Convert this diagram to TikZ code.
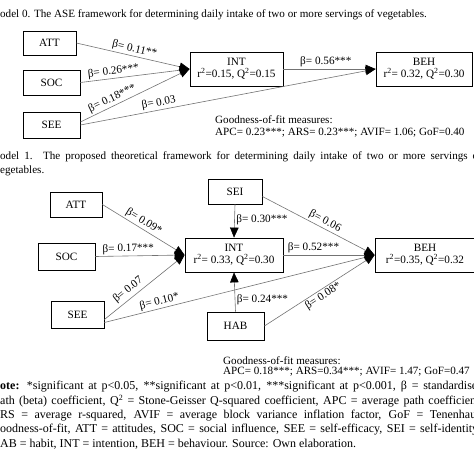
\documentclass[tikz,border=0pt]{standalone}
\usepackage{fontspec}
\setmainfont{Liberation Serif}
\usetikzlibrary{arrows.meta}

\newcommand{\sq}{\textsuperscript{2}}

\begin{document}
\begin{tikzpicture}[x = 1pt, y = -1pt,
  box/.style = {draw, line width = 0.8pt, inner sep = 0, align = center,
    font = \fontsize{11.2}{12}\selectfont},
  link/.style = {draw = black!55, line width = 0.6pt},
  arr/.style = {link, -{Triangle[length = 10pt, width = 8.5pt, black]}},
  coef/.style = {font = \fontsize{11.2}{12}\selectfont, inner sep = 1.5pt},
  txt/.style = {anchor = west, inner sep = 0, font = \fontsize{11.1}{12}\selectfont},
  note/.style = {txt, font = \fontsize{12}{14}\selectfont}
  ]
  \useasboundingbox (0, 0) rectangle (474, 474);
  \clip (0, 0) rectangle (474, 474);

  % Model 0
  \node[txt] (title0) at (0, 15) {odel 0. The ASE framework for determining daily intake of two or more servings of vegetables.};

  \node[box, minimum width = 53, minimum height = 24] (att0) at (49.5, 43) {ATT};
  \node[box, minimum width = 57, minimum height = 25] (soc0) at (51.5, 82.5) {SOC};
  \node[box, minimum width = 57, minimum height = 26] (see0) at (51.5, 125) {SEE};
  \node[box, minimum width = 93, minimum height = 34] (int0) at (236.5, 69)
  {INT\\r\sq=0.15, Q\sq=0.15};
  \node[box, minimum width = 96, minimum height = 34] (beh0) at (424, 69)
  {BEH\\r\sq= 0.32, Q\sq=0.30};

  \draw[arr] (att0.east) -- node[coef, sloped, above, pos = 0.5] (c0att) {β= 0.11**} (int0.west);
  \draw[arr] (soc0.east) -- node[coef, sloped, above, pos = 0.31] (c0soc) {β= 0.26***} (int0.west);
  \draw[arr] ([yshift = 3pt]see0.east) -- node[coef, sloped, above, pos = 0.32] (c0see) {β= 0.18***} (int0.west);
  \draw[arr] (see0.east) -- node[coef, sloped, above, pos = 0.27] (c0seeb) {β= 0.03} (beh0.west);
  \draw[arr] (int0.east) -- node[coef, above, pos = 0.46] (c0int) {β= 0.56***} (beh0.west);

  \node[txt] (fit0a) at (215, 120) {Goodness-of-fit measures:};
  \node[txt] (fit0b) at (215, 133) {APC= 0.23***; ARS= 0.23***; AVIF= 1.06; GoF=0.40};

  % Model 1
  \node[txt] (title1a) at (0, 157) {\makebox[478pt][s]{odel 1. The proposed theoretical framework for determining daily intake of two or more servings o}};
  \node[txt] (title1b) at (0, 171) {egetables.};

  \node[box, minimum width = 52, minimum height = 25] (att1) at (76, 204.5) {ATT};
  \node[box, minimum width = 57, minimum height = 27] (soc1) at (66.5, 256.5) {SOC};
  \node[box, minimum width = 53, minimum height = 27] (see1) at (77.5, 314.5) {SEE};
  \node[box, minimum width = 54, minimum height = 25] (sei1) at (235, 191.5) {SEI};
  \node[box, minimum width = 57, minimum height = 28] (hab1) at (235.5, 326) {HAB};
  \node[box, minimum width = 98, minimum height = 34] (int1) at (234, 255)
  {INT\\r\sq= 0.33, Q\sq=0.30};
  \node[box, minimum width = 100, minimum height = 34] (beh1) at (425, 255)
  {BEH\\r\sq=0.35, Q\sq=0.32};

  \draw[arr] (att1.east) -- node[coef, sloped, above, pos = 0.46] (c1att) {β= 0.09*} (int1.west);
  \draw[arr] (soc1.east) -- node[coef, sloped, above, pos = 0.37] (c1soc) {β= 0.17***} (int1.west);
  \draw[arr] ([yshift = -5pt]see1.east) -- node[coef, sloped, above, pos = 0.36, inner sep = 3pt] (c1see) {β= 0.07} (int1.west);
  \draw[arr] ([yshift = -8pt]see1.east) -- node[coef, sloped, above, pos = 0.21] (c1seeb) {β= 0.10*} (beh1.west);
  \draw[arr] (sei1.south) -- node[coef, right, pos = 0.45] (c1sei) {β= 0.30***} (int1.north);
  \draw[arr] ([yshift = -5pt]sei1.east) -- node[coef, sloped, above, pos = 0.53] (c1seib) {β= 0.06} (beh1.west);
  \draw[arr] (hab1.north) -- node[coef, right, pos = 0.3] (c1hab) {β= 0.24***} (int1.south);
  \draw[arr] (hab1.east) -- node[coef, sloped, below, pos = 0.5] (c1habb) {β= 0.08*} (beh1.west);
  \draw[arr] (int1.east) -- node[coef, above, pos = 0.33] (c1int) {β= 0.52***} (beh1.west);

  \node[txt] (fit1a) at (223, 361) {Goodness-of-fit measures:};
  \node[txt] (fit1b) at (223, 372) {APC= 0.18***; ARS=0.34***; AVIF= 1.47; GoF=0.47};

  % note
  \node[note] (note1) at (0, 387) {\makebox[477pt][s]{\textbf{ote:} *significant at p<0.05, **significant at p<0.01, ***significant at p<0.001, β = standardise}};
  \node[note] (note2) at (0, 401) {\makebox[476pt][s]{ath (beta) coefficient, Q\sq{} = Stone-Geisser Q-squared coefficient, APC = average path coefficien}};
  \node[note] (note3) at (0, 416) {\makebox[476pt][s]{RS = average r-squared, AVIF = average block variance inflation factor, GoF = Tenenhau}};
  \node[note] (note4) at (0, 430) {\makebox[478pt][s]{oodness-of-fit, ATT = attitudes, SOC = social influence, SEE = self-efficacy, SEI = self-identity}};
  \node[note] (note5) at (0, 444) {AB = habit, INT = intention, BEH = behaviour. Source: Own elaboration.};
\end{tikzpicture}
\end{document}
